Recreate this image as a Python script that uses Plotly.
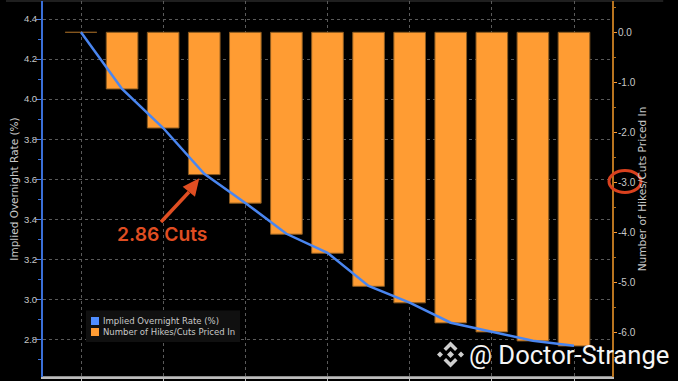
import plotly.graph_objects as go

positions = list(range(13))
rate = [4.334, 4.051, 3.856, 3.627, 3.482, 3.328, 3.233, 3.068, 2.984, 2.884, 2.839, 2.794, 2.769]
cuts = [0.0, -1.13, -1.91, -2.84, -3.41, -4.03, -4.41, -5.07, -5.40, -5.80, -5.98, -6.16, -6.26]
x_tick_vals = [0, 2, 4, 6, 8, 10, 12]
x_tick_text = ["Spot", "11/30/2025", "11/30/2026", "11/30/2026", "11/30/2026", "11/30/2027", "11/30/2027"]
left_ticks = [2.8, 3.0, 3.2, 3.4, 3.6, 3.8, 4.0, 4.2, 4.4]
left_text = ["2.8", "3.0", "3.2", "3.4", "3.6", "3.8", "4.0", "4.2", "4.4"]
right_ticks = [0, -1, -2, -3, -4, -5, -6]
right_text = ["0.0", "-1.0", "-2.0", "-3.0", "-4.0", "-5.0", "-6.0"]
name_rate = "Implied Overnight Rate (%)"
name_cuts = "Number of Hikes/Cuts Priced In"

W, H = 678, 381
L, R, T, B = 43, 612, 1, 377
BLUE, ORANGE, RED = "#4A86F0", "#FF9C33", "#E04E22"
AXFONT = "DejaVu Sans"
TICKFONT = dict(family="Liberation Sans", size=10, color="#C8C8C8")


def px(x):
    return (x - L) / (R - L)


def py(y):
    return (B - y) / (B - T)


def poly(pts, color):
    p = "M" + " L".join(f"{px(x):.4f},{py(y):.4f}" for x, y in pts) + " Z"
    return dict(type="path", xref="paper", yref="paper", path=p, fillcolor=color,
                line=dict(width=0), layer="above")


def rect(x0, y0, x1, y1, color):
    return dict(type="rect", xref="paper", yref="paper", x0=px(x0), x1=px(x1), y0=py(y1), y1=py(y0),
                fillcolor=color, line=dict(width=0), layer="above")


fig = go.Figure()
fig.add_trace(go.Bar(x=positions, y=cuts, name=name_cuts, width=0.77, yaxis="y", showlegend=False,
                     marker=dict(color=ORANGE, line=dict(color="#8A5A20", width=1))))
fig.add_trace(go.Scatter(x=positions, y=rate, mode="lines", name=name_rate, showlegend=False,
                         line=dict(color=BLUE, width=2.5), yaxis="y2"))

GC = "#5A5A5A"
logo = "#CFCFCF"
cx, cy = 450.5, 354.5
shapes = [
    dict(type="circle", xref="paper", yref="paper", x0=px(609), x1=px(641), y0=py(192.5), y1=py(170.5),
         line=dict(color="#D9411E", width=3), layer="above"),
    dict(type="line", xref="paper", yref="paper", x0=-0.065, x1=1.09, y0=1.0, y1=1.0,
         line=dict(color="#2A2A2A", width=1.5), layer="below"),
    dict(type="line", xref="paper", yref="paper", x0=0, x1=1, y0=0, y1=0,
         line=dict(color="#BDBDBD", width=1.5), layer="above"),
    dict(type="line", xref="paper", yref="paper", x0=px(161), y0=py(222), x1=px(189), y1=py(192),
         line=dict(color=RED, width=3.5), layer="above"),
    poly([(199.3, 178.3), (182.7, 186.7), (195, 196.7)], RED),
    rect(86, 310.5, 240, 342, "#101010"),
    rect(91, 317, 99, 325, "#4F8DFF"),
    rect(91, 328, 99, 336, ORANGE),
    poly([(cx, cy - 3.5), (cx + 3.5, cy), (cx, cy + 3.5), (cx - 3.5, cy)], logo),
    poly([(cx - 10.5, cy - 3), (cx - 7.5, cy), (cx - 10.5, cy + 3), (cx - 13.5, cy)], logo),
    poly([(cx + 10.5, cy - 3), (cx + 13.5, cy), (cx + 10.5, cy + 3), (cx + 7.5, cy)], logo),
    poly([(cx, cy - 13), (cx + 7, cy - 6), (cx + 4.5, cy - 3.5), (cx, cy - 8),
          (cx - 4.5, cy - 3.5), (cx - 7, cy - 6)], logo),
    poly([(cx, cy + 13), (cx + 7, cy + 6), (cx + 4.5, cy + 3.5), (cx, cy + 8),
          (cx - 4.5, cy + 3.5), (cx - 7, cy + 6)], logo),
]

LEGFONT = dict(family=AXFONT, size=8.5, color="#C8C8C8")
annotations = [
    dict(xref="paper", yref="paper", x=px(162), y=py(234), text="2.86 Cuts", showarrow=False,
         font=dict(family="Inter", size=19.3, weight=600, color=RED), xanchor="center", yanchor="middle"),
    dict(xref="paper", yref="paper", x=px(467), y=py(355), text="@ Doctor-Strange", showarrow=False,
         font=dict(family="Roboto", size=25.6, color="#F5F5F5"), xanchor="left", yanchor="middle"),
    dict(xref="paper", yref="paper", x=px(101), y=py(321), text=name_rate, showarrow=False,
         font=LEGFONT, xanchor="left", yanchor="middle"),
    dict(xref="paper", yref="paper", x=px(101), y=py(332), text=name_cuts, showarrow=False,
         font=LEGFONT, xanchor="left", yanchor="middle"),
]

fig.update_layout(
    width=W, height=H, autosize=False,
    margin=dict(l=L, r=W - R, t=T, b=H - B, pad=0, autoexpand=False),
    paper_bgcolor="#000000", plot_bgcolor="#000000",
    barmode="overlay", showlegend=False,
    font=dict(family=AXFONT, size=10, color="#C8C8C8"),
    shapes=shapes, annotations=annotations,
    xaxis=dict(range=[-0.925, 12.925], tickmode="array", tickvals=x_tick_vals, ticktext=x_tick_text,
               showgrid=True, gridcolor=GC, griddash="dot", gridwidth=1, zeroline=False,
               showline=True, linecolor="#BDBDBD", linewidth=1.5, ticks="outside", ticklen=2,
               tickcolor="#BDBDBD", tickfont=TICKFONT, automargin=False),
    yaxis=dict(range=[-6.88, 0.625], side="right", tickmode="array", tickvals=right_ticks,
               ticktext=right_text, showgrid=False, zeroline=False, showline=True,
               linecolor="#B8741F", linewidth=2, ticks="outside", ticklen=3, tickcolor=ORANGE,
               tickfont=TICKFONT, ticklabelstandoff=-1,
               minor=dict(dtick=0.5, tick0=0, ticks="outside", ticklen=2, tickcolor="#B8741F"),
               title=dict(text=name_cuts, font=dict(size=10.6, color="#C8C8C8"), standoff=4),
               automargin=True),
    yaxis2=dict(range=[2.613, 4.49], side="left", overlaying="y", anchor="x", tickmode="array",
                tickvals=left_ticks, ticktext=left_text, showgrid=True, gridcolor=GC, griddash="dot",
                gridwidth=1, zeroline=False, showline=True, linecolor="#3A6FD8", linewidth=2,
                ticks="outside", ticklen=5, tickcolor="#4A86F0",
                tickfont=dict(family="Liberation Sans", size=9.5, color="#C8C8C8"),
                ticklabelstandoff=-3,
                minor=dict(dtick=0.1, tick0=0, ticks="outside", ticklen=3, tickcolor="#3A6FD8"),
                title=dict(text=name_rate, font=dict(size=10.5, color="#C8C8C8"), standoff=3),
                automargin=True),
)

fig.write_html("out.html", config={"displayModeBar": False},
               post_script="document.body.style.margin='0';document.body.style.overflow='hidden';document.body.style.background='#000';")
